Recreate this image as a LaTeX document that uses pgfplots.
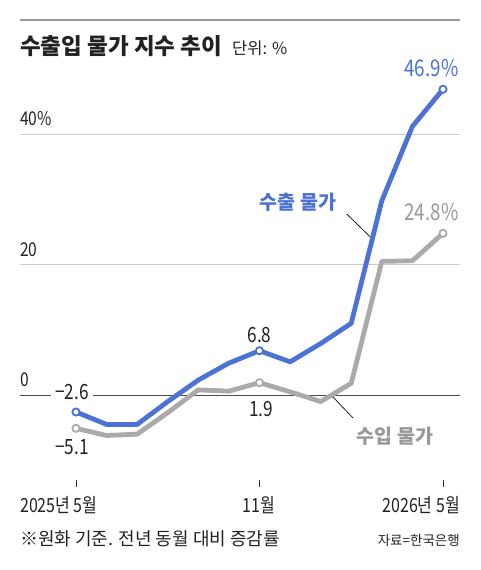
\documentclass[border=0pt]{standalone}
\usepackage{pgfplots}
\pgfplotsset{compat=1.18}
\usepackage{fontspec}
\setmainfont{Noto Sans CJK KR}
\newfontfamily\cond[FakeStretch=0.82]{Noto Sans CJK KR}
\definecolor{bl}{HTML}{4D72D6}
\definecolor{gr}{HTML}{AAAAAA}
\definecolor{grt}{HTML}{999999}
\definecolor{tx}{HTML}{222222}
\begin{document}
\begin{tikzpicture}[x=1pt,y=1pt]
\path[use as bounding box] (0,0) rectangle (480,570);
\draw[grt, line width=1.5pt] (20,550) -- (460,550);
\node[anchor=base west, inner sep=0, text=tx, font=\fontsize{22.5}{22.5}\selectfont\bfseries] at (20,515) {수출입 물가 지수 추이};
\node[anchor=base west, inner sep=0, text=tx, font=\fontsize{16.5}{16.5}\selectfont] at (232,515) {단위: \%};
\begin{axis}[
  at={(20pt,83pt)}, anchor=south west,
  width=440pt, height=431pt, scale only axis,
  xmin=-1.83, xmax=12.556, ymin=-14.1, ymax=52,
  clip=false,
  axis line style={draw=none},
  ytick={20,40}, yticklabels={},
  extra y ticks={0}, extra y tick labels={},
  extra y tick style={grid style={black!70, line width=0.8pt}},
  ymajorgrids, grid style={black!20, line width=0.8pt},
  y tick style={draw=none},
  xtick={0,6,12}, xticklabels={},
  xtick pos=bottom, tick align=inside,
  x tick style={black!80, line width=0.6pt},
  major tick length=7pt,
]
\addplot[gr, line width=4.8pt, line join=round] coordinates {
(0,-5.1) (1,-6.2) (2,-6.0) (3,-2.7) (4,0.8) (5,0.6) (6,1.9) (7,0.5) (8,-1.0) (9,1.8) (10,20.5) (11,20.6) (12,24.8)};
\addplot[bl, line width=4.8pt, line join=round] coordinates {
(0,-2.6) (1,-4.5) (2,-4.5) (3,-1.0) (4,2.3) (5,4.9) (6,6.8) (7,5.1) (8,7.9) (9,11.0) (10,29.8) (11,41.2) (12,46.9)};
\addplot[only marks, mark=*, mark size=3.6pt, mark options={fill=white, draw=gr, line width=1.8pt}] coordinates {(0,-5.1) (6,1.9) (12,24.8)};
\addplot[only marks, mark=*, mark size=3.6pt, mark options={fill=white, draw=bl, line width=1.8pt}] coordinates {(0,-2.6) (6,6.8) (12,46.9)};
\end{axis}
% y labels
\node[anchor=base west, inner sep=0, text=tx, font=\cond\fontsize{19}{19}\selectfont] at (20,444) {40\%};
\node[anchor=base west, inner sep=0, text=tx, font=\cond\fontsize{19}{19}\selectfont] at (20,313) {20};
\node[anchor=base west, inner sep=0, text=tx, font=\cond\fontsize{19}{19}\selectfont] at (20,183) {0};
% data labels
\node[text=bl, font=\cond\fontsize{23}{23}\selectfont] at (431.5,501.5) {46.9\%};
\node[text=grt, font=\cond\fontsize{23}{23}\selectfont] at (431.5,357.5) {24.8\%};
\node[text=tx, font=\cond\fontsize{21}{21}\selectfont] at (259.5,234.5) {6.8};
\node[text=tx, font=\cond\fontsize{21}{21}\selectfont] at (261,160.5) {1.9};
\node[text=tx, fill=white, inner xsep=4pt, inner ysep=1pt, font=\cond\fontsize{21}{21}\selectfont] at (72,177.5) {−2.6};
\node[text=tx, font=\cond\fontsize{21}{21}\selectfont] at (72,123) {−5.1};
% series labels
\node[text=bl, font=\fontsize{19.5}{19.5}\selectfont\bfseries] at (298,367.5) {수출 물가};
\draw[tx, line width=0.8pt] (346.7,356) -- (370,333.3);
\node[text=grt, font=\fontsize{19.5}{19.5}\selectfont\bfseries] at (395,134) {수입 물가};
\draw[tx, line width=0.8pt] (333,173) -- (353,152);
% x labels
\node[anchor=base west, inner sep=0, text=tx, font=\cond\fontsize{19.5}{19.5}\selectfont] at (20,57) {2025년 5월};
\node[anchor=base, inner sep=0, text=tx, font=\cond\fontsize{19.5}{19.5}\selectfont] at (259,57) {11월};
\node[anchor=base east, inner sep=0, text=tx, font=\cond\fontsize{19.5}{19.5}\selectfont] at (460,57) {2026년 5월};
% footer
\node[anchor=base west, inner sep=0, text=tx, font=\fontsize{18}{18}\selectfont] at (20,24) {※원화 기준. 전년 동월 대비 증감률};
\node[anchor=base east, inner sep=0, text=tx, font=\fontsize{13.5}{13.5}\selectfont] at (460,24) {자료=한국은행};
\end{tikzpicture}
\end{document}
